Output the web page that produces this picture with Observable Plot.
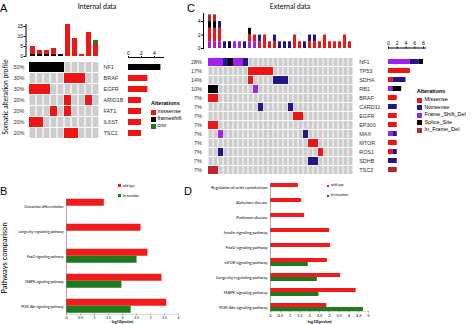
<!DOCTYPE html>
<html><head><meta charset="utf-8">
<script src="https://cdn.jsdelivr.net/npm/d3@7"></script>
<script src="https://cdn.jsdelivr.net/npm/@observablehq/plot@0.6"></script>
<style>
html,body{margin:0;padding:0;background:#fff;}
#root{position:relative;width:474px;height:324px;overflow:hidden;background:#fff;}
.t{position:absolute;white-space:nowrap;line-height:1;color:#000;}
.sw{position:absolute;}
</style></head><body><div id="root"></div>
<script>
// ---------------- DATA ----------------
// Panel A: internal oncoprint
const intSamples = ["S1","S2","S3","S4","S5","S6","S7","S8","S9","S10"];
const intGenes = ["NF1","BRAF","EGFR","ARID1B","FAT1","IL6ST","TSC2"];
const intPct = ["50%","30%","30%","20%","20%","20%","20%"];
const intTypes = ["missense","frameshift","cnv"];
const intColors = ["#f01515","#000000","#1e7a1e"];
const intAlterations = [
  {gene:"NF1", type:"frameshift", samples:[1,2,3,4,5]},
  {gene:"BRAF", type:"missense", samples:[6,7,8]},
  {gene:"EGFR", type:"missense", samples:[1,2,3]},
  {gene:"ARID1B", type:"missense", samples:[6,9]},
  {gene:"FAT1", type:"missense", samples:[4,6]},
  {gene:"IL6ST", type:"missense", samples:[1,2]},
  {gene:"TSC2", type:"missense", samples:[6,7]}
];
const intTopMissense   = [4,2,2,3,0,16,9,1,12,6];
const intTopFrameshift = [1,1,1,1,1,0,0,0,0,0];
const intTopCnv        = [0,0,0,0,0,0,0,0,0,2];
const intTopTicks = [0,5,10,15];
const intBarTicks = [0,2,4];

// Panel C: external oncoprint
const extSamples = d3.range(1,30).map(i => "E" + i);
const extGenes = ["NF1","TP53","SDHA","RB1","BRAF","CARD11","EGFR","EP300","MAX","MTOR","ROS1","SDHB","TSC2"];
const extPct = ["28%","17%","14%","10%","7%","7%","7%","7%","7%","7%","7%","7%","7%"];
const extTypes = ["Frame_Shift_Del","Missense","Nonsense","Splice_Site","In_Frame_Del"];
const extColors = ["#a21ff0","#f01515","#22178a","#000000","#b8272c"];
const extLegendOrder = ["Missense","Nonsense","Frame_Shift_Del","Splice_Site","In_Frame_Del"];
const extAlterations = [
  {gene:"NF1", type:"Frame_Shift_Del", samples:[1,2,3,6,7]},
  {gene:"NF1", type:"Nonsense", samples:[4,8]},
  {gene:"NF1", type:"Splice_Site", samples:[5]},
  {gene:"TP53", type:"Missense", samples:[9,10,11,12,13]},
  {gene:"SDHA", type:"Missense", samples:[9]},
  {gene:"SDHA", type:"Nonsense", samples:[14,15,16]},
  {gene:"RB1", type:"Splice_Site", samples:[1,2]},
  {gene:"RB1", type:"Frame_Shift_Del", samples:[10]},
  {gene:"BRAF", type:"Missense", samples:[1,2]},
  {gene:"CARD11", type:"Nonsense", samples:[11,17]},
  {gene:"EGFR", type:"Missense", samples:[18,19]},
  {gene:"EP300", type:"Missense", samples:[1,2]},
  {gene:"MAX", type:"Frame_Shift_Del", samples:[3]},
  {gene:"MAX", type:"Nonsense", samples:[20]},
  {gene:"MTOR", type:"Missense", samples:[21,22]},
  {gene:"ROS1", type:"Nonsense", samples:[3]},
  {gene:"ROS1", type:"Missense", samples:[23]},
  {gene:"SDHB", type:"Nonsense", samples:[21,22]},
  {gene:"TSC2", type:"In_Frame_Del", samples:[1,2]}
];
const extTopFrameShift = [1,1,1,0,0,1,1,0,1,1,0,0,0,0,0,0,0,0,0,0,0,0,0,0,0,0,0,0,0];
const extTopMissense   = [2,2,2,0,0,0,0,0,1,1,1,2,1,1,0,0,0,2,1,0,1,1,1,2,1,1,1,2,1];
const extTopNonsense   = [0,0,1,1,0,0,0,1,0,0,1,0,0,1,1,1,1,0,0,1,1,1,0,0,0,0,0,0,0];
const extTopSplice     = [1,1,0,0,1,0,0,0,1,0,0,0,0,0,0,0,0,0,0,0,0,0,0,0,0,0,0,0,0];
const extTopInFrame    = [1,1,0,0,0,0,0,0,0,0,0,0,0,0,0,0,0,0,0,0,0,0,0,0,0,0,0,0,0];
const extTopTicks = [0,2,4];
const extBarTicks = [0,2,4,6,8];

// Panels B and D: pathway enrichment
const seriesNames = ["wild type","kit mutation"];
const seriesColors = ["#f21a1a","#1e7a1e"];
const bCats = ["Osteoclast differentiation","Longevity regulating pathway","FoxO signaling pathway","MAPK signaling pathway","PI3K-Akt signaling pathway"];
const bWild = [1.35,2.66,2.91,3.41,3.58];
const bKit  = [null,null,2.52,1.98,2.31];
const bTicks = [0,0.5,1,1.5,2,2.5,3,3.5,4];
const dCats = ["Regulation of actin cytoskeleton","Alzheimer disease","Parkinson disease","Insulin signaling pathway","FoxO signaling pathway","mTOR signaling pathway","Longevity regulating pathway","MAPK signaling pathway","PI3K-Akt signaling pathway"];
const dWild = [1.42,1.59,1.74,3.02,3.07,2.9,3.58,4.37,2.87];
const dKit  = [null,null,null,null,null,1.93,2.39,2.47,4.74];
const dTicks = [0,0.5,1,1.5,2,2.5,3,3.5,4,4.5,5];

// ---------------- BUILD ----------------
const W = 474, H = 324;
const root = document.getElementById("root");
const FONT = "'Liberation Sans', Arial, sans-serif";
const FONT2 = "Lato, 'Liberation Sans', sans-serif";
const fmt = d => String(d);

function add(opts){
  const svg = Plot.plot({width:W, height:H, ...opts,
    style:{background:"transparent", overflow:"visible", position:"absolute", left:"0px", top:"0px", fontFamily:opts.font || FONT, maxWidth:"none"}});
  root.appendChild(svg);
}
function txt(s, x, y, o = {}){
  const d = document.createElement("div");
  d.className = "t";
  d.textContent = s;
  const tx = o.anchor === "middle" ? "-50%" : o.anchor === "end" ? "-100%" : "0";
  d.style.left = x + "px"; d.style.top = y + "px";
  d.style.fontSize = (o.size || 6) + "px";
  d.style.fontWeight = o.weight || "normal";
  d.style.fontFamily = o.family || FONT;
  d.style.color = o.color || "#000";
  d.style.transform = `translate(${tx},-50%)` + (o.rotate ? ` rotate(${o.rotate}deg)` : "");
  root.appendChild(d);
}
function sw(x, y, w, h, c){
  const d = document.createElement("div");
  d.className = "sw";
  Object.assign(d.style, {left:x+"px", top:y+"px", width:w+"px", height:h+"px", background:c});
  root.appendChild(d);
}

// tidy tables
const intCells = intAlterations.flatMap(a => a.samples.map(s => ({gene:a.gene, type:a.type, sample:"S"+s})))
  .sort((a,b) => intTypes.indexOf(a.type) - intTypes.indexOf(b.type));
const intBg = d3.cross(intSamples, intGenes, (s,g) => ({sample:s, gene:g}));
const intTop = intSamples.flatMap((s,i) => [
  {sample:s, type:"frameshift", n:intTopFrameshift[i]},
  {sample:s, type:"missense", n:intTopMissense[i]},
  {sample:s, type:"cnv", n:intTopCnv[i]}]);

const extCells = extAlterations.flatMap(a => a.samples.map(s => ({gene:a.gene, type:a.type, sample:"E"+s})))
  .sort((a,b) => extTypes.indexOf(a.type) - extTypes.indexOf(b.type));
const extBg = d3.cross(extSamples, extGenes, (s,g) => ({sample:s, gene:g}));
const extTop = extSamples.flatMap((s,i) => [
  {sample:s, type:"Frame_Shift_Del", n:extTopFrameShift[i]},
  {sample:s, type:"Missense", n:extTopMissense[i]},
  {sample:s, type:"Nonsense", n:extTopNonsense[i]},
  {sample:s, type:"Splice_Site", n:extTopSplice[i]},
  {sample:s, type:"In_Frame_Del", n:extTopInFrame[i]}]);

const bData = bCats.flatMap((c,i) => [{cat:c, series:"wild type", value:bWild[i]}, {cat:c, series:"kit mutation", value:bKit[i]}]).filter(d => d.value != null);
const dData = dCats.flatMap((c,i) => [{cat:c, series:"wild type", value:dWild[i]}, {cat:c, series:"kit mutation", value:dKit[i]}]).filter(d => d.value != null);

const intColor = {domain:intTypes, range:intColors};
const extColor = {domain:extTypes, range:extColors};

// ---- Panel A ----
add({marginLeft:27, marginRight:374, marginTop:24, marginBottom:268,
  x:{domain:intSamples, padding:0.3, axis:null}, y:{domain:[0,16]}, color:intColor,
  marks:[
    Plot.barY(intTop, {x:"sample", y:"n", fill:"type"}),
    Plot.axisY({ticks:intTopTicks, tickSize:2, tickPadding:1, fontSize:5, label:null, dx:-1.5, tickFormat:fmt}),
    Plot.frame({anchor:"left", dx:-1.5})
  ]});
add({marginLeft:27, marginRight:374, marginTop:58, marginBottom:182,
  x:{domain:intSamples, padding:0, axis:null}, y:{domain:intGenes, padding:0.12}, color:intColor,
  marks:[
    Plot.cell(intBg, {x:"sample", y:"gene", fill:"#cdcdcd", insetLeft:0.6, insetRight:0.6}),
    Plot.cell(intCells, {x:"sample", y:"gene", fill:"type"}),
    Plot.axisY({anchor:"left", tickSize:0, tickPadding:3, fontSize:5.5, label:null, color:"#333", tickFormat:g => intPct[intGenes.indexOf(g)]}),
    Plot.axisY({anchor:"right", tickSize:0, tickPadding:3, fontSize:5.5, label:null, color:"#333"})
  ]});
add({marginLeft:128, marginRight:311, marginTop:58, marginBottom:182,
  x:{domain:[0,5.4]}, y:{domain:intGenes, padding:0.42, axis:null}, color:intColor,
  marks:[
    Plot.barX(intCells, Plot.groupY({x:"count"}, {y:"gene", fill:"type"})),
    Plot.axisX({anchor:"top", ticks:intBarTicks, tickSize:2, tickPadding:1, fontSize:5, label:null, dy:-1, tickFormat:fmt}),
    Plot.frame({anchor:"top", dy:-1})
  ]});

// ---- Panel C ----
add({marginLeft:204.5, marginRight:118.3, marginTop:13, marginBottom:276,
  x:{domain:extSamples, padding:0.33, axis:null}, y:{domain:[0,5.2]}, color:extColor,
  marks:[
    Plot.barY(extTop, {x:"sample", y:"n", fill:"type"}),
    Plot.axisY({ticks:extTopTicks, tickSize:2, tickPadding:1, fontSize:5, label:null, dx:-1.5, tickFormat:fmt}),
    Plot.frame({anchor:"left", dx:-1.5})
  ]});
add({marginLeft:204.5, marginRight:118.3, marginTop:50.5, marginBottom:143.5,
  x:{domain:extSamples, padding:0, axis:null}, y:{domain:extGenes, padding:0.12}, color:extColor,
  marks:[
    Plot.cell(extBg, {x:"sample", y:"gene", fill:"#cdcdcd", insetLeft:0.5, insetRight:0.5}),
    Plot.cell(extCells, {x:"sample", y:"gene", fill:"type"}),
    Plot.axisY({anchor:"left", tickSize:0, tickPadding:3, fontSize:5.5, label:null, color:"#333", tickFormat:g => extPct[extGenes.indexOf(g)]}),
    Plot.axisY({anchor:"right", tickSize:0, tickPadding:3, fontSize:5.5, label:null, color:"#333"})
  ]});
add({marginLeft:388, marginRight:48.8, marginTop:50.5, marginBottom:143.5,
  x:{domain:[0,8.5]}, y:{domain:extGenes, padding:0.5, axis:null}, color:extColor,
  marks:[
    Plot.barX(extCells, Plot.groupY({x:"count"}, {y:"gene", fill:"type"})),
    Plot.axisX({anchor:"top", ticks:extBarTicks, tickSize:2, tickPadding:1, fontSize:5, label:null, dy:-3, tickFormat:fmt}),
    Plot.frame({anchor:"top", dy:-3})
  ]});

// ---- Panel B ----
const seriesColor = {domain:seriesNames, range:seriesColors};
add({marginLeft:66, marginRight:296, marginTop:198.25, marginBottom:10.25, font:FONT2,
  x:{domain:[0,4], axis:null}, fy:{domain:bCats, padding:0.435, label:null},
  y:{domain:seriesNames, padding:0, axis:null}, color:seriesColor,
  marks:[
    Plot.barX(bData, {x:"value", y:"series", fy:"cat", fill:"series"}),
    Plot.axisFy({anchor:"left", tickSize:0, tickPadding:3, fontSize:3.5, label:null})
  ]});
add({marginLeft:66, marginRight:296, marginTop:198.25, marginBottom:10.25, font:FONT2,
  x:{domain:[0,4]},
  marks:[
    Plot.ruleX([0], {stroke:"#777", strokeWidth:0.6}),
    Plot.frame({anchor:"bottom", stroke:"#bbb", strokeWidth:0.6}),
    Plot.axisX({ticks:bTicks, tickSize:1.5, tickPadding:1, fontSize:3.5, label:null, tickFormat:fmt, stroke:"#999"})
  ]});

// ---- Panel D ----
add({marginLeft:270, marginRight:106, marginTop:183, marginBottom:13, font:FONT2,
  x:{domain:[0,5], axis:null}, fy:{domain:dCats, padding:0.5, label:null},
  y:{domain:seriesNames, padding:0, axis:null}, color:seriesColor,
  marks:[
    Plot.barX(dData, {x:"value", y:"series", fy:"cat", fill:"series"}),
    Plot.axisFy({anchor:"left", tickSize:0, tickPadding:3, fontSize:4, label:null})
  ]});
add({marginLeft:270, marginRight:106, marginTop:183, marginBottom:13, font:FONT2,
  x:{domain:[0,5]},
  marks:[
    Plot.ruleX([0], {stroke:"#777", strokeWidth:0.6}),
    Plot.frame({anchor:"bottom", stroke:"#bbb", strokeWidth:0.6}),
    Plot.axisX({ticks:dTicks, tickSize:1.5, tickPadding:1, fontSize:4, label:null, tickFormat:fmt, stroke:"#999"})
  ]});

// ---------------- TEXT & LEGENDS ----------------
txt("A", 0, 8, {size:11});
txt("Internal data", 97, 6, {size:7, anchor:"middle", family:FONT2});
txt("Somatic alteration profile", 5, 97, {size:6.8, anchor:"middle", rotate:-90, family:FONT2});
txt("C", 187, 8, {size:11});
txt("External data", 290, 6, {size:7, anchor:"middle", family:FONT2});
txt("B", 0, 191, {size:11});
txt("D", 184, 191, {size:11});
txt("Pathways comparison", 5, 258, {size:7.5, anchor:"middle", rotate:-90, family:FONT2});

// internal legend
txt("Alterations", 151, 104, {size:5.5, weight:"bold"});
intTypes.forEach((t,i) => { sw(151, 112 + i*7 - 2.5, 5, 5, intColors[i]); txt(t, 157.5, 112 + i*7, {size:5.5}); });
// external legend
txt("Alterations", 416.7, 92, {size:5.5, weight:"bold"});
extLegendOrder.forEach((t,i) => { const y = 100 + i*7.5; sw(416.7, y - 2.5, 5, 5, extColors[extTypes.indexOf(t)]); txt(t, 424.5, y, {size:5.5}); });
// B legend
seriesNames.forEach((s,i) => { const y = 185.5 + i*10; sw(118.3, y - 1.2, 2.4, 2.4, seriesColors[i]); txt(s, 122.7, y, {size:3, family:FONT2}); });
txt("-log10(pvalue)", 122, 322, {size:3.6, weight:"bold", anchor:"middle", family:FONT2});
// D legend
seriesNames.forEach((s,i) => { const y = 186 + i*10; sw(327, y - 1.2, 2.4, 2.4, seriesColors[i]); txt(s, 331, y, {size:3.2, family:FONT2}); });
txt("-log10(pvalue)", 319, 321.5, {size:4, weight:"bold", anchor:"middle", family:FONT2});
</script></body></html>
